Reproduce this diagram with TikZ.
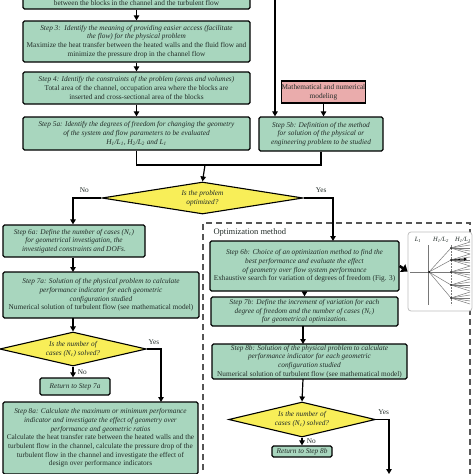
\documentclass[tikz,border=0pt]{standalone}
\usepackage{fontspec}
\setmainfont{Liberation Serif}
\usetikzlibrary{arrows.meta,shapes.geometric}
\definecolor{boxgreen}{RGB}{168,214,190}
\definecolor{dyellow}{RGB}{248,238,88}
\definecolor{mpink}{RGB}{234,172,172}
\definecolor{txt}{RGB}{34,44,40}
\definecolor{dashgray}{RGB}{85,85,85}
\definecolor{treegray}{RGB}{120,120,120}
\newcommand\fsz{\fontsize{7.3}{8.7}\selectfont}
\newcommand\sub[1]{\textsubscript{#1}}
\tikzset{
  gbox/.style={draw=black, line width=1.3pt, rounded corners=1.5pt, fill=boxgreen,
    align=center, font=\fsz, inner sep=0pt, text=txt},
  pbox/.style={draw=black, line width=1.3pt, fill=mpink, align=center, font=\fsz,
    inner sep=0pt, text=txt},
  dbox/.style={diamond, draw=black, line width=1.1pt, fill=dyellow, align=center,
    font=\fsz\itshape, inner sep=0pt, aspect=6, text=txt},
  arr/.style={line width=1.2pt, -{Triangle[length=5pt,width=5.5pt]}},
  ln/.style={line width=1.2pt},
  lab/.style={font=\fsz, text=txt},
  tl/.style={treegray, line width=0.5pt}
}
\begin{document}
\begin{tikzpicture}[x=1pt,y=-1pt]
\useasboundingbox (0,0) rectangle (474,474);
\clip (0,0) rectangle (474,474);
% left column
\node[gbox, minimum width=227, minimum height=12] (s2) at (136.5,3)
  {between the blocks in the channel and the turbulent flow};
\node[gbox, minimum width=227, minimum height=41] (s3) at (136.5,41.5)
  {\textit{Step 3:\ \ Identify the meaning of providing easier access (facilitate}\\
   \textit{the flow) for the physical problem}\\
   Maximize the heat transfer between the heated walls and the fluid flow and\\
   minimize the pressure drop in the channel flow};
\node[gbox, minimum width=227, minimum height=32] (s4) at (136.5,88)
  {\textit{Step 4: Identify the constraints of the problem (areas and volumes)}\\
   Total area of the channel, occupation area where the blocks are\\
   inserted and cross-sectional area of the blocks};
\node[gbox, minimum width=227, minimum height=33] (s5a) at (136.5,133.5)
  {\textit{Step 5a: Identify the degrees of freedom for changing the geometry}\\
   \textit{of the system and flow parameters to be evaluated}\\
   \textit{H\sub{1}/L\sub{1}, H\sub{2}/L\sub{2} and L\sub{1}}};
\node[pbox, minimum width=81, minimum height=22] (math) at (323.5,92)
  {Mathematical and numerical\\ modeling};
\node[gbox, minimum width=124, minimum height=34] (s5b) at (321,134)
  {\textit{Step 5b: Definition of the method}\\
   \textit{for solution of the physical or}\\
   \textit{engineering problem to be studied}};
\coordinate (rtop) at (275,-5);
\coordinate (join) at (205,165);
\node[dbox, minimum width=201, minimum height=32] (d1) at (202.5,198)
  {Is the problem\\ optimized?};
\node[gbox, minimum width=142, minimum height=32] (s6a) at (74,241)
  {\textit{Step 6a: Define the number of cases (N\sub{c})}\\
   \textit{for geometrical investigation, the}\\
   \textit{investigated constraints and DOFs.}};
\node[gbox, minimum width=196, minimum height=46] (s7a) at (101,295)
  {\textit{Step 7a: Solution of the physical problem to calculate}\\
   \textit{performance indicator for each geometric}\\
   \textit{configuration studied}\\
   Numerical solution of turbulent flow (see mathematical model)};
\node[dbox, minimum width=140, minimum height=34] (d2) at (73,349)
  {Is the number of\\ cases (N\sub{c}) solved?};
\node[gbox, minimum width=70, minimum height=17] (r7a) at (75,386.5)
  {\textit{Return to Step 7a}};
\node[gbox, minimum width=195, minimum height=72] (s8a) at (100.5,438)
  {\textit{Step 8a: Calculate the maximum or minimum performance}\\
   \textit{indicator and investigate the effect of geometry over}\\
   \textit{performance and geometric ratios}\\
   Calculate the heat transfer rate between the heated walls and the\\
   turbulent flow in the channel, calculate the pressure drop of the\\
   turbulent flow in the channel and investigate the effect of\\
   design over performance indicators};
% optimization method frame
\draw[dashgray, line width=1.6pt, dash pattern=on 6pt off 4pt] (203,490) -- (203,223) -- (470,223) -- (470,490);
\node[font=\fontsize{8.5}{10}\selectfont, text=txt, anchor=west] (optlab) at (210,232) {Optimization method};
\node[gbox, minimum width=189, minimum height=50] (s6b) at (304.5,266)
  {\textit{Step 6b: Choice of an optimization method to find the}\\
   \textit{best performance and evaluate the effect}\\
   \textit{of geometry over flow system performance}\\
   Exhaustive search for variation of degrees of freedom (Fig. 3)};
\node[gbox, minimum width=187, minimum height=29] (s7b) at (304.5,311.5)
  {\textit{Step 7b: Define the increment of variation for each}\\
   \textit{degree of freedom and the number of cases (N\sub{c})}\\
   \textit{for geometrical optimization.}};
\node[gbox, minimum width=195, minimum height=35] (s8b) at (309.5,361.5)
  {\textit{Step 8b: Solution of the physical problem to calculate}\\
   \textit{performance indicator for each geometric}\\
   \textit{configuration studied}\\
   Numerical solution of turbulent flow (see mathematical model)};
\node[dbox, minimum width=138, minimum height=35] (d3) at (302,419.5)
  {Is the number of\\ cases (N\sub{c}) solved?};
\node[gbox, minimum width=60, minimum height=11] (r8b) at (302,451.5)
  {\textit{Return to Step 8b}};
\coordinate (yend) at (389,474);
% tree picture
\node[draw=black!25, line width=0.8pt, rounded corners=3pt, fill=white,
  minimum width=64, minimum height=79, inner sep=0pt] (tree) at (440,271.5) {};
\node[font=\fontsize{6.5}{7}\selectfont\itshape, text=txt] (tl1) at (418,240) {L\sub{1}};
\node[font=\fontsize{6.5}{7}\selectfont\itshape, text=txt] (tl2) at (441,240) {H\sub{1}/L\sub{2}};
\node[font=\fontsize{6.5}{7}\selectfont\itshape, text=txt] (tl3) at (463,240) {H\sub{1}/L\sub{1}};
\draw[tl] (428,245) -- (428,305);
\draw[tl, dash pattern=on 2pt off 1pt] (451,245) -- (451,305);
\draw[tl] (410,272) -- (429,272);
\foreach \yy in {248,260,272,285,298}{
  \draw[tl] (429,272) -- (451,\yy);
  \foreach \dd in {-6,-3,0,3,6}{\draw[tl] (451,\yy) -- (470,\yy+\dd);}
  \fill[black] (451,\yy) circle (0.9pt);
}
\fill[black] (429,272) circle (1pt);
\draw[line width=0.6pt, -{Triangle[length=3pt,width=3pt]}] (451,260) -- (467,259);
% connectors
\draw[arr] (s2) -- (s3);
\draw[arr] (s3) -- (s4);
\draw[arr] (s4) -- (s5a);
\draw[arr] (rtop) -- (rtop |- s5b.north);
\draw[arr] (math) -- (math |- s5b.north);
\draw[ln] (s5a.south) |- (join);
\draw[ln] (s5b.south) |- (join);
\draw[arr] (join) -- (d1.north);
\draw[arr] (d1.west) -| (s6a.north -| 73,0) node[lab, pos=0.3, above=1pt] {No};
\draw[arr] (d1.east) -| (333,241) node[lab, pos=0.3, above=1pt] {Yes};
\draw[arr] (s6a.south -| 73,0) -- (73,272);
\draw[arr] (73,318) -- (d2.north);
\draw[arr] (d2.south) -- (r7a.north -| d2.south) node[lab, midway, right=1pt] {No};
\draw[arr] (d2.east) -| (161,402) node[lab, pos=0.25, above=1pt] {Yes};
\draw[line width=2.6pt, -{Triangle[length=6pt,width=9pt]}] (s6b.east) -- (tree.west);
\draw[arr] (s6b.south) -- (s7b.north);
\draw[arr] (303,326) -- (303,344);
\draw[arr] (303,379) -- (d3.north);
\draw[arr] (d3.south) -- (r8b.north) node[lab, midway, right=1pt] {No};
\draw[arr] (d3.east) -| (yend) node[lab, pos=0.3, above=1pt] {Yes};
\end{tikzpicture}
\end{document}
